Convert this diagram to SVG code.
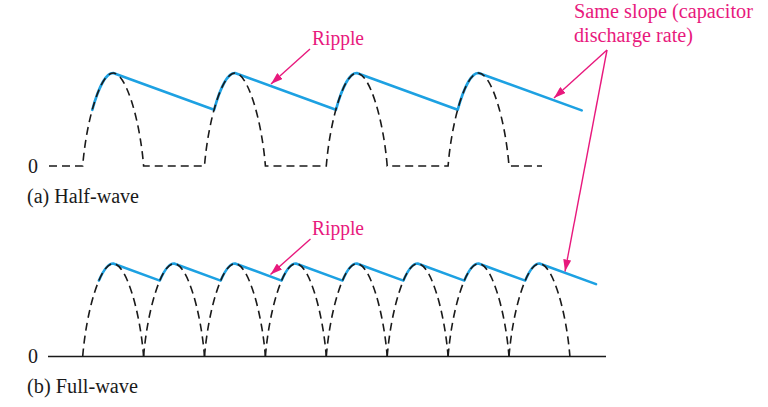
<svg xmlns="http://www.w3.org/2000/svg" xmlns:xlink="http://www.w3.org/1999/xlink" width="768" height="407" viewBox="0 0 768 407">
<style>
.dash{fill:none;stroke:#1a1a1a;stroke-width:1.6;stroke-dasharray:8 5}
.axis{fill:none;stroke:#1a1a1a;stroke-width:1.5}
.blue{fill:none;stroke:#1da1e2;stroke-width:2.6;stroke-linejoin:round;stroke-linecap:round}
.arr{fill:none;stroke:#e8197d;stroke-width:1.4;marker-end:url(#ah)}
.lbl{font-family:"Liberation Serif","Times New Roman",serif;font-size:20px;fill:#1a1a1a}
.mag{font-family:"Liberation Serif","Times New Roman",serif;font-size:20px;fill:#e8197d}
</style>
<defs>
<marker id="ah" viewBox="0 0 12 8" refX="12" refY="4" markerWidth="12" markerHeight="8" markerUnits="userSpaceOnUse" orient="auto">
<path d="M0,0 L12,4 L0,8 Z" fill="#e8197d"/>
</marker>
<path id="hump" d="M0,0 C3.7,-46.5 17.65,-93 30.45,-93 C43.25,-93 57.2,-46.5 60.9,0"/>
</defs>
<rect width="768" height="407" fill="#fff"/>

<g id="half-wave">
<path class="blue" d="M92.3,109.8 C98.2,88.1 105.9,73 113.15,73 L214.1,109.8 C220,88.1 227.7,73 234.95,73 L335.9,109.8 C341.8,88.1 349.5,73 356.75,73 L457.7,109.8 C463.6,88.1 471.3,73 478.55,73 L581.7,110.4"/>
<path class="dash" d="M49,166 H82.7 C86.4,119.5 100.35,73 113.15,73 C125.95,73 139.9,119.5 143.6,166 H204.5 C208.2,119.5 222.15,73 234.95,73 C247.75,73 261.7,119.5 265.4,166 H326.3 C330,119.5 343.95,73 356.75,73 C369.55,73 383.5,119.5 387.2,166 H448.1 C451.8,119.5 465.75,73 478.55,73 C491.35,73 505.3,119.5 509,166 H542"/>
<text class="lbl" x="28" y="173">0</text>
<text class="lbl" x="27" y="203" textLength="112" lengthAdjust="spacingAndGlyphs">(a) Half-wave</text>
</g>

<g id="full-wave">
<path class="axis" d="M48,356.5 H606"/>
<path class="blue" d="M98.9,280.6 C103.5,270 108.4,263.5 113.15,263.5 L159.8,280.6 C164.4,270 169.3,263.5 174.05,263.5 L220.7,280.6 C225.3,270 230.2,263.5 234.95,263.5 L281.6,280.6 C286.1,270 291.1,263.5 295.85,263.5 L342.5,280.6 C347,270 352,263.5 356.75,263.5 L403.4,280.6 C407.9,270 412.9,263.5 417.65,263.5 L464.3,280.6 C468.8,270 473.8,263.5 478.55,263.5 L525.2,280.6 C529.7,270 534.7,263.5 539.45,263.5 L596,284.1"/>
<g class="dash">
<use xlink:href="#hump" x="82.7" y="356.5"/>
<use xlink:href="#hump" x="143.6" y="356.5"/>
<use xlink:href="#hump" x="204.5" y="356.5"/>
<use xlink:href="#hump" x="265.4" y="356.5"/>
<use xlink:href="#hump" x="326.3" y="356.5"/>
<use xlink:href="#hump" x="387.2" y="356.5"/>
<use xlink:href="#hump" x="448.1" y="356.5"/>
<use xlink:href="#hump" x="509" y="356.5"/>
</g>
<text class="lbl" x="28" y="363">0</text>
<text class="lbl" x="27" y="393" textLength="111" lengthAdjust="spacingAndGlyphs">(b) Full-wave</text>
</g>

<g id="labels">
<text id="ripple-a" class="mag" x="312" y="45" textLength="52" lengthAdjust="spacingAndGlyphs">Ripple</text>
<text id="ripple-b" class="mag" x="312" y="235" textLength="52" lengthAdjust="spacingAndGlyphs">Ripple</text>
<g id="same-slope">
<text class="mag" x="574" y="18" textLength="179" lengthAdjust="spacingAndGlyphs">Same slope (capacitor</text>
<text class="mag" x="574" y="42" textLength="119" lengthAdjust="spacingAndGlyphs">discharge rate)</text>
</g>
</g>

<g id="connectors">
<path class="arr" d="M310,49 L271,84"/>
<path class="arr" d="M310.5,239 L270.5,274.5"/>
<path class="arr" d="M607,50 L554,98"/>
<path class="arr" d="M607,50 L565,271.5"/>
</g>
</svg>
